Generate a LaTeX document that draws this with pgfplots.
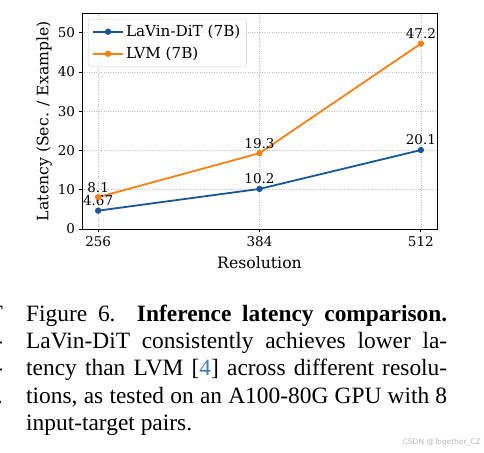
\documentclass[border=0pt]{standalone}
\usepackage{pgfplots}
\pgfplotsset{compat=1.18}
\usepackage{fontspec}
\setmainfont{DejaVu Serif}
\newfontfamily\capfont{Liberation Serif}
\newfontfamily\wmfont{DejaVu Sans}

\definecolor{lavinblue}{HTML}{17569B}
\definecolor{lvmorange}{HTML}{FF7F0E}
\definecolor{citeblue}{HTML}{3F7FBF}

\newcommand{\plotfont}{\fontsize{13.5}{16}\selectfont}
\newcommand{\labfont}{\fontsize{15.7}{18}\selectfont}
\newcommand{\legfont}{\fontsize{15.2}{17}\selectfont}
\newcommand{\capsize}{\fontsize{23.4}{27.3}\selectfont}

\begin{document}
\begin{tikzpicture}[x=1pt,y=1pt]
\path[use as bounding box] (0,0) rectangle (484,452);

\begin{axis}[
    at={(82pt,223pt)}, anchor=south west,
    scale only axis,
    width=355pt, height=216pt,
    xmin=243.2, xmax=524.8,
    ymin=0, ymax=55,
    xtick={256,384,512},
    ytick={0,10,...,50},
    xtick pos=bottom, ytick pos=left,
    tick align=outside,
    major tick length=3.5pt,
    tick style={black, line width=0.8pt},
    axis line style={black, line width=0.8pt},
    grid=major,
    grid style={dotted, black!25, line width=0.6pt},
    ticklabel style={font=\plotfont},
    /pgf/number format/assume math mode=true,
    /pgf/number format/1000 sep={},
    label style={font=\labfont},
    xlabel={Resolution},
    ylabel={Latency (Sec. / Example)},
    xlabel style={yshift=-3pt},
    ylabel style={yshift=-1pt},
    legend cell align=left,
    legend style={
        at={(0,1)}, anchor=north west,
        xshift=6pt, yshift=-6pt,
        draw=black!20, rounded corners=2pt,
        fill=white, fill opacity=0.8, text opacity=1,
        font=\legfont,
        inner xsep=4pt, inner ysep=4pt,
        row sep=5pt,
    },
    legend image code/.code={
        \draw[mark repeat=2, mark phase=2]
            plot coordinates {(0pt,0pt) (15pt,0pt) (30pt,0pt)};
    },
    every axis plot/.append style={line width=1.8pt},
    nodes near coords,
    point meta=explicit symbolic,
    every node near coord/.append style={font=\plotfont, anchor=south, inner sep=0pt, yshift=4pt, black},
]
\addplot[color=lavinblue, mark=*, mark size=2.2pt] table[meta=lab] {
x y lab
256 4.67 4.67
384 10.2 10.2
512 20.1 20.1
};
\addlegendentry{LaVin-DiT (7B)}

\addplot[color=lvmorange, mark=*, mark size=2.2pt] table[meta=lab] {
x y lab
256 8.1 8.1
384 19.3 19.3
512 47.2 47.2
};
\addlegendentry{LVM (7B)}
\end{axis}

% caption below the chart
\begin{scope}[every node/.style={inner sep=0pt, anchor=base west, font=\capfont\capsize}]
\node at (26,130.5) {\makebox[421pt][s]{Figure 6.\ \ \textbf{Inference latency comparison.}}};
\node at (26,103.2) {\makebox[421pt][s]{LaVin-DiT consistently achieves lower la-}};
\node at (26,76) {\makebox[421pt][s]{tency than LVM [\textcolor{citeblue}{4}] across different resolu-}};
\node at (26,48.7) {\makebox[421pt][s]{tions, as tested on an A100-80G GPU with 8}};
\node at (26,21.5) {input-target pairs.};
\end{scope}

% cut-off glyphs of the neighbouring column
\begin{scope}[every node/.style={inner sep=0pt, anchor=base east, font=\capfont\capsize}]
\node at (3,130.5) {T};
\node at (3,103.2) {-};
\node at (3,76) {-};
\node at (3,48.7) {.};
\end{scope}

\node[anchor=base east, inner sep=0pt, text=black!28, font=\wmfont\fontsize{7.5}{9}\selectfont] at (481,8) {CSDN @Together\_CZ};
\end{tikzpicture}
\end{document}
